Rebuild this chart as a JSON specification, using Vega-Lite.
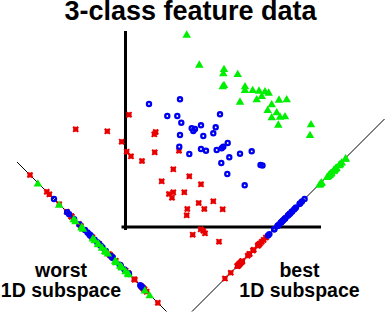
{
  "$schema": "https://vega.github.io/schema/vega-lite/v6.json",
  "autosize": {"type": "none"},
  "padding": {"top": 31, "left": 0, "right": 0, "bottom": 0},
  "width": 389,
  "height": 282,
  "background": "white",
  "config": {"view": {"stroke": null}},
  "title": {"text": "3-class feature data", "font": "Liberation Sans", "fontSize": 27, "fontWeight": "bold", "color": "black", "anchor": "middle", "dx": -4, "offset": 4},
  "datasets": {
    "segs": [
      {"kind": "axis", "X1": 0.5, "Y1": -2, "X2": 0.5, "Y2": 197},
      {"kind": "axis", "X1": -3.5, "Y1": 1, "X2": 196, "Y2": 1},
      {"kind": "subspace", "X1": -108, "Y1": 66, "X2": 41.5, "Y2": -83.5},
      {"kind": "subspace", "X1": 67, "Y1": -83.5, "X2": 259.5, "Y2": 109}
    ],
    "labels": [
      {"txt": "worst\n1D subspace", "X": -64, "Y": -48.7},
      {"txt": "best\n1D subspace", "X": 174.5, "Y": -48.7}
    ],
    "pts": [
      {"c": "red", "s": "data", "X": -49.3, "Y": 98.7}, {"c": "red", "s": "worst", "X": -95, "Y": 53}, {"c": "red", "s": "best", "X": 99.95, "Y": -50.55},
      {"c": "red", "s": "data", "X": -17.7, "Y": 96.7}, {"c": "red", "s": "worst", "X": -78.2, "Y": 36.2}, {"c": "red", "s": "best", "X": 114.75, "Y": -35.75},
      {"c": "red", "s": "data", "X": 4, "Y": 113.3}, {"c": "red", "s": "worst", "X": -75.65, "Y": 33.65}, {"c": "red", "s": "best", "X": 133.9, "Y": -16.6},
      {"c": "red", "s": "data", "X": -3.3, "Y": 86.3}, {"c": "red", "s": "worst", "X": -65.8, "Y": 23.8}, {"c": "red", "s": "best", "X": 116.75, "Y": -33.75},
      {"c": "red", "s": "data", "X": 1.7, "Y": 76.3}, {"c": "red", "s": "worst", "X": -58.3, "Y": 16.3}, {"c": "red", "s": "best", "X": 114.25, "Y": -36.25},
      {"c": "red", "s": "data", "X": 6, "Y": 71.7}, {"c": "red", "s": "worst", "X": -53.85, "Y": 11.85}, {"c": "red", "s": "best", "X": 114.1, "Y": -36.4},
      {"c": "red", "s": "data", "X": 17, "Y": 67}, {"c": "red", "s": "worst", "X": -46, "Y": 4}, {"c": "red", "s": "best", "X": 117.25, "Y": -33.25},
      {"c": "red", "s": "data", "X": 30.7, "Y": 96}, {"c": "red", "s": "worst", "X": -53.65, "Y": 11.65}, {"c": "red", "s": "best", "X": 138.6, "Y": -11.9},
      {"c": "red", "s": "data", "X": 29.3, "Y": 93.7}, {"c": "red", "s": "worst", "X": -53.2, "Y": 11.2}, {"c": "red", "s": "best", "X": 136.75, "Y": -13.75},
      {"c": "red", "s": "data", "X": 29.7, "Y": 75.7}, {"c": "red", "s": "worst", "X": -44, "Y": 2}, {"c": "red", "s": "best", "X": 127.95, "Y": -22.55},
      {"c": "red", "s": "data", "X": 54, "Y": 77.3}, {"c": "red", "s": "worst", "X": -32.65, "Y": -9.35}, {"c": "red", "s": "best", "X": 140.9, "Y": -9.6},
      {"c": "red", "s": "data", "X": 48.3, "Y": 58.7}, {"c": "red", "s": "worst", "X": -26.2, "Y": -15.8}, {"c": "red", "s": "best", "X": 128.75, "Y": -21.75},
      {"c": "red", "s": "data", "X": 36.7, "Y": 46.7}, {"c": "red", "s": "worst", "X": -26, "Y": -16}, {"c": "red", "s": "best", "X": 116.95, "Y": -33.55},
      {"c": "red", "s": "data", "X": 64.3, "Y": 51.7}, {"c": "red", "s": "worst", "X": -14.7, "Y": -27.3}, {"c": "red", "s": "best", "X": 133.25, "Y": -17.25},
      {"c": "red", "s": "data", "X": 76, "Y": 43.7}, {"c": "red", "s": "worst", "X": -4.85, "Y": -37.15}, {"c": "red", "s": "best", "X": 135.1, "Y": -15.4},
      {"c": "red", "s": "data", "X": 44, "Y": 34}, {"c": "red", "s": "worst", "X": -16, "Y": -26}, {"c": "red", "s": "best", "X": 114.25, "Y": -36.25},
      {"c": "red", "s": "data", "X": 48.3, "Y": 35.7}, {"c": "red", "s": "worst", "X": -14.7, "Y": -27.3}, {"c": "red", "s": "best", "X": 117.25, "Y": -33.25},
      {"c": "red", "s": "data", "X": 47, "Y": 30.3}, {"c": "red", "s": "worst", "X": -12.65, "Y": -29.35}, {"c": "red", "s": "best", "X": 113.9, "Y": -36.6},
      {"c": "red", "s": "data", "X": 59.3, "Y": 35.7}, {"c": "red", "s": "worst", "X": -9.2, "Y": -32.8}, {"c": "red", "s": "best", "X": 122.75, "Y": -27.75},
      {"c": "red", "s": "data", "X": 73.7, "Y": 25}, {"c": "red", "s": "worst", "X": 3.35, "Y": -45.35}, {"c": "red", "s": "best", "X": 124.6, "Y": -25.9},
      {"c": "red", "s": "data", "X": 88.3, "Y": 26.7}, {"c": "red", "s": "worst", "X": 9.8, "Y": -51.8}, {"c": "red", "s": "best", "X": 132.75, "Y": -17.75},
      {"c": "red", "s": "data", "X": 62.3, "Y": 19}, {"c": "red", "s": "worst", "X": 0.65, "Y": -42.65}, {"c": "red", "s": "best", "X": 115.9, "Y": -34.6},
      {"c": "red", "s": "data", "X": 79.3, "Y": 19}, {"c": "red", "s": "worst", "X": 9.15, "Y": -51.15}, {"c": "red", "s": "best", "X": 124.4, "Y": -26.1},
      {"c": "red", "s": "data", "X": 97.7, "Y": 18.7}, {"c": "red", "s": "worst", "X": 18.5, "Y": -60.5}, {"c": "red", "s": "best", "X": 133.45, "Y": -17.05},
      {"c": "red", "s": "data", "X": 61.7, "Y": 12.7}, {"c": "red", "s": "worst", "X": 3.5, "Y": -45.5}, {"c": "red", "s": "best", "X": 112.45, "Y": -38.05},
      {"c": "red", "s": "data", "X": 75.7, "Y": -1.3}, {"c": "red", "s": "worst", "X": 17.5, "Y": -59.5}, {"c": "red", "s": "best", "X": 112.45, "Y": -38.05},
      {"c": "red", "s": "data", "X": 78.3, "Y": -2.7}, {"c": "red", "s": "worst", "X": 19.5, "Y": -61.5}, {"c": "red", "s": "best", "X": 113.05, "Y": -37.45},
      {"c": "red", "s": "data", "X": 80, "Y": -5.3}, {"c": "red", "s": "worst", "X": 21.65, "Y": -63.65}, {"c": "red", "s": "best", "X": 112.6, "Y": -37.9},
      {"c": "red", "s": "data", "X": 67.7, "Y": -6.7}, {"c": "red", "s": "worst", "X": 16.2, "Y": -58.2}, {"c": "red", "s": "best", "X": 105.75, "Y": -44.75},
      {"c": "red", "s": "data", "X": 94, "Y": -13.7}, {"c": "red", "s": "worst", "X": 32.85, "Y": -74.85}, {"c": "red", "s": "best", "X": 115.4, "Y": -35.1},

      {"c": "blue", "s": "data", "X": 24, "Y": 124}, {"c": "blue", "s": "worst", "X": -71, "Y": 29}, {"c": "blue", "s": "best", "X": 149.25, "Y": -1.25},
      {"c": "blue", "s": "data", "X": 55, "Y": 128.7}, {"c": "blue", "s": "worst", "X": -57.85, "Y": 15.85}, {"c": "blue", "s": "best", "X": 167.1, "Y": 16.6},
      {"c": "blue", "s": "data", "X": 42.3, "Y": 112}, {"c": "blue", "s": "worst", "X": -55.85, "Y": 13.85}, {"c": "blue", "s": "best", "X": 152.4, "Y": 1.9},
      {"c": "blue", "s": "data", "X": 52.3, "Y": 112}, {"c": "blue", "s": "worst", "X": -50.85, "Y": 8.85}, {"c": "blue", "s": "best", "X": 157.4, "Y": 6.9},
      {"c": "blue", "s": "data", "X": 56.3, "Y": 105.3}, {"c": "blue", "s": "worst", "X": -45.5, "Y": 3.5}, {"c": "blue", "s": "best", "X": 156.05, "Y": 5.55},
      {"c": "blue", "s": "data", "X": 95, "Y": 113.7}, {"c": "blue", "s": "worst", "X": -30.35, "Y": -11.65}, {"c": "blue", "s": "best", "X": 179.6, "Y": 29.1},
      {"c": "blue", "s": "data", "X": 66.7, "Y": 99.7}, {"c": "blue", "s": "worst", "X": -37.5, "Y": -4.5}, {"c": "blue", "s": "best", "X": 158.45, "Y": 7.95},
      {"c": "blue", "s": "data", "X": 68.3, "Y": 97}, {"c": "blue", "s": "worst", "X": -35.35, "Y": -6.65}, {"c": "blue", "s": "best", "X": 157.9, "Y": 7.4},
      {"c": "blue", "s": "data", "X": 70, "Y": 99}, {"c": "blue", "s": "worst", "X": -35.5, "Y": -6.5}, {"c": "blue", "s": "best", "X": 159.75, "Y": 9.25},
      {"c": "blue", "s": "data", "X": 76, "Y": 102.7}, {"c": "blue", "s": "worst", "X": -34.35, "Y": -7.65}, {"c": "blue", "s": "best", "X": 164.6, "Y": 14.1},
      {"c": "blue", "s": "data", "X": 90.7, "Y": 100.7}, {"c": "blue", "s": "worst", "X": -26, "Y": -16}, {"c": "blue", "s": "best", "X": 170.95, "Y": 20.45},
      {"c": "blue", "s": "data", "X": 88.3, "Y": 94.7}, {"c": "blue", "s": "worst", "X": -24.2, "Y": -17.8}, {"c": "blue", "s": "best", "X": 166.75, "Y": 16.25},
      {"c": "blue", "s": "data", "X": 55, "Y": 93}, {"c": "blue", "s": "worst", "X": -40, "Y": -2}, {"c": "blue", "s": "best", "X": 149.25, "Y": -1.25},
      {"c": "blue", "s": "data", "X": 78.3, "Y": 92}, {"c": "blue", "s": "worst", "X": -27.85, "Y": -14.15}, {"c": "blue", "s": "best", "X": 160.4, "Y": 9.9},
      {"c": "blue", "s": "data", "X": 102.7, "Y": 85}, {"c": "blue", "s": "worst", "X": -12.15, "Y": -29.85}, {"c": "blue", "s": "best", "X": 169.1, "Y": 18.6},
      {"c": "blue", "s": "data", "X": 98.3, "Y": 81.3}, {"c": "blue", "s": "worst", "X": -12.5, "Y": -29.5}, {"c": "blue", "s": "best", "X": 165.05, "Y": 14.55},
      {"c": "blue", "s": "data", "X": 54.3, "Y": 81.3}, {"c": "blue", "s": "worst", "X": -34.5, "Y": -7.5}, {"c": "blue", "s": "best", "X": 143.05, "Y": -7.45},
      {"c": "blue", "s": "data", "X": 76, "Y": 79}, {"c": "blue", "s": "worst", "X": -22.5, "Y": -19.5}, {"c": "blue", "s": "best", "X": 152.75, "Y": 2.25},
      {"c": "blue", "s": "data", "X": 81, "Y": 77.3}, {"c": "blue", "s": "worst", "X": -19.15, "Y": -22.85}, {"c": "blue", "s": "best", "X": 154.4, "Y": 3.9},
      {"c": "blue", "s": "data", "X": 91.7, "Y": 78}, {"c": "blue", "s": "worst", "X": -14.15, "Y": -27.85}, {"c": "blue", "s": "best", "X": 160.1, "Y": 9.6},
      {"c": "blue", "s": "data", "X": 96.7, "Y": 79.7}, {"c": "blue", "s": "worst", "X": -12.5, "Y": -29.5}, {"c": "blue", "s": "best", "X": 163.45, "Y": 12.95},
      {"c": "blue", "s": "data", "X": 64.3, "Y": 74}, {"c": "blue", "s": "worst", "X": -25.85, "Y": -16.15}, {"c": "blue", "s": "best", "X": 144.4, "Y": -6.1},
      {"c": "blue", "s": "data", "X": 115, "Y": 74.3}, {"c": "blue", "s": "worst", "X": -0.65, "Y": -41.35}, {"c": "blue", "s": "best", "X": 169.9, "Y": 19.4},
      {"c": "blue", "s": "data", "X": 126.7, "Y": 76.7}, {"c": "blue", "s": "worst", "X": 4, "Y": -46}, {"c": "blue", "s": "best", "X": 176.95, "Y": 26.45},
      {"c": "blue", "s": "data", "X": 104.3, "Y": 70.7}, {"c": "blue", "s": "worst", "X": -4.2, "Y": -37.8}, {"c": "blue", "s": "best", "X": 162.75, "Y": 12.25},
      {"c": "blue", "s": "data", "X": 96.3, "Y": 65}, {"c": "blue", "s": "worst", "X": -5.35, "Y": -36.65}, {"c": "blue", "s": "best", "X": 155.9, "Y": 5.4},
      {"c": "blue", "s": "data", "X": 135.5, "Y": 63}, {"c": "blue", "s": "worst", "X": 15.25, "Y": -57.25}, {"c": "blue", "s": "best", "X": 174.5, "Y": 24},
      {"c": "blue", "s": "data", "X": 137.5, "Y": 62.5}, {"c": "blue", "s": "worst", "X": 16.5, "Y": -58.5}, {"c": "blue", "s": "best", "X": 175.25, "Y": 24.75},
      {"c": "blue", "s": "data", "X": 102.3, "Y": 54}, {"c": "blue", "s": "worst", "X": 3.15, "Y": -45.15}, {"c": "blue", "s": "best", "X": 153.4, "Y": 2.9},
      {"c": "blue", "s": "data", "X": 119.7, "Y": 42.7}, {"c": "blue", "s": "worst", "X": 17.5, "Y": -59.5}, {"c": "blue", "s": "best", "X": 156.45, "Y": 5.95},

      {"c": "green", "s": "data", "X": 61.7, "Y": 194}, {"c": "green", "s": "worst", "X": -87.15, "Y": 45.15}, {"c": "green", "s": "best", "X": 203.1, "Y": 52.6},
      {"c": "green", "s": "data", "X": 74.3, "Y": 164}, {"c": "green", "s": "worst", "X": -65.85, "Y": 23.85}, {"c": "green", "s": "best", "X": 194.4, "Y": 43.9},
      {"c": "green", "s": "data", "X": 99, "Y": 159.7}, {"c": "green", "s": "worst", "X": -51.35, "Y": 9.35}, {"c": "green", "s": "best", "X": 204.6, "Y": 54.1},
      {"c": "green", "s": "data", "X": 98.3, "Y": 155.3}, {"c": "green", "s": "worst", "X": -49.5, "Y": 7.5}, {"c": "green", "s": "best", "X": 202.05, "Y": 51.55},
      {"c": "green", "s": "data", "X": 112.7, "Y": 154.7}, {"c": "green", "s": "worst", "X": -42, "Y": 0}, {"c": "green", "s": "best", "X": 208.95, "Y": 58.45},
      {"c": "green", "s": "data", "X": 99, "Y": 143.7}, {"c": "green", "s": "worst", "X": -43.35, "Y": 1.35}, {"c": "green", "s": "best", "X": 196.6, "Y": 46.1},
      {"c": "green", "s": "data", "X": 97.7, "Y": 142.3}, {"c": "green", "s": "worst", "X": -43.3, "Y": 1.3}, {"c": "green", "s": "best", "X": 195.25, "Y": 44.75},
      {"c": "green", "s": "data", "X": 120, "Y": 142.3}, {"c": "green", "s": "worst", "X": -32.15, "Y": -9.85}, {"c": "green", "s": "best", "X": 206.4, "Y": 55.9},
      {"c": "green", "s": "data", "X": 120, "Y": 138.7}, {"c": "green", "s": "worst", "X": -30.35, "Y": -11.65}, {"c": "green", "s": "best", "X": 204.6, "Y": 54.1},
      {"c": "green", "s": "data", "X": 127.7, "Y": 138.7}, {"c": "green", "s": "worst", "X": -26.5, "Y": -15.5}, {"c": "green", "s": "best", "X": 208.45, "Y": 57.95},
      {"c": "green", "s": "data", "X": 134, "Y": 138}, {"c": "green", "s": "worst", "X": -23, "Y": -19}, {"c": "green", "s": "best", "X": 211.25, "Y": 60.75},
      {"c": "green", "s": "data", "X": 140, "Y": 137.3}, {"c": "green", "s": "worst", "X": -19.65, "Y": -22.35}, {"c": "green", "s": "best", "X": 213.9, "Y": 63.4},
      {"c": "green", "s": "data", "X": 143.7, "Y": 136}, {"c": "green", "s": "worst", "X": -17.15, "Y": -24.85}, {"c": "green", "s": "best", "X": 215.1, "Y": 64.6},
      {"c": "green", "s": "data", "X": 131.7, "Y": 129.3}, {"c": "green", "s": "worst", "X": -19.8, "Y": -22.2}, {"c": "green", "s": "best", "X": 205.75, "Y": 55.25},
      {"c": "green", "s": "data", "X": 136.7, "Y": 132.7}, {"c": "green", "s": "worst", "X": -19, "Y": -23}, {"c": "green", "s": "best", "X": 209.95, "Y": 59.45},
      {"c": "green", "s": "data", "X": 115, "Y": 127}, {"c": "green", "s": "worst", "X": -27, "Y": -15}, {"c": "green", "s": "best", "X": 196.25, "Y": 45.75},
      {"c": "green", "s": "data", "X": 154, "Y": 129}, {"c": "green", "s": "worst", "X": -8.5, "Y": -33.5}, {"c": "green", "s": "best", "X": 216.75, "Y": 66.25},
      {"c": "green", "s": "data", "X": 161.7, "Y": 129.3}, {"c": "green", "s": "worst", "X": -4.8, "Y": -37.2}, {"c": "green", "s": "best", "X": 220.75, "Y": 70.25},
      {"c": "green", "s": "data", "X": 146.7, "Y": 124.3}, {"c": "green", "s": "worst", "X": -9.8, "Y": -32.2}, {"c": "green", "s": "best", "X": 210.75, "Y": 60.25},
      {"c": "green", "s": "data", "X": 142.7, "Y": 118.7}, {"c": "green", "s": "worst", "X": -9, "Y": -33}, {"c": "green", "s": "best", "X": 205.95, "Y": 55.45},
      {"c": "green", "s": "data", "X": 151.7, "Y": 116.3}, {"c": "green", "s": "worst", "X": -3.3, "Y": -38.7}, {"c": "green", "s": "best", "X": 209.25, "Y": 58.75},
      {"c": "green", "s": "data", "X": 146.7, "Y": 111.3}, {"c": "green", "s": "worst", "X": -3.3, "Y": -38.7}, {"c": "green", "s": "best", "X": 204.25, "Y": 53.75},
      {"c": "green", "s": "data", "X": 155, "Y": 112}, {"c": "green", "s": "worst", "X": 0.5, "Y": -42.5}, {"c": "green", "s": "best", "X": 208.75, "Y": 58.25},
      {"c": "green", "s": "data", "X": 160, "Y": 112.3}, {"c": "green", "s": "worst", "X": 2.85, "Y": -44.85}, {"c": "green", "s": "best", "X": 211.4, "Y": 60.9},
      {"c": "green", "s": "data", "X": 153.3, "Y": 104}, {"c": "green", "s": "worst", "X": 3.65, "Y": -45.65}, {"c": "green", "s": "best", "X": 203.9, "Y": 53.4},
      {"c": "green", "s": "data", "X": 186, "Y": 104.3}, {"c": "green", "s": "worst", "X": 19.85, "Y": -61.85}, {"c": "green", "s": "best", "X": 220.4, "Y": 69.9},
      {"c": "green", "s": "data", "X": 185, "Y": 93.7}, {"c": "green", "s": "worst", "X": 24.65, "Y": -66.65}, {"c": "green", "s": "best", "X": 214.6, "Y": 64.1}
    ]
  },
  "layer": [
    {
      "data": {"name": "segs"},
      "transform": [{"filter": "datum.kind === 'axis'"}],
      "mark": {"type": "rule", "color": "black", "strokeWidth": 3},
      "encoding": {
        "x": {"field": "X1", "type": "quantitative", "scale": {"domain": [-125, 264], "nice": false, "zero": false}, "axis": null},
        "y": {"field": "Y1", "type": "quantitative", "scale": {"domain": [-85, 197], "nice": false, "zero": false}, "axis": null},
        "x2": {"field": "X2"},
        "y2": {"field": "Y2"}
      }
    },
    {
      "data": {"name": "segs"},
      "transform": [{"filter": "datum.kind === 'subspace'"}],
      "mark": {"type": "rule", "color": "black", "strokeWidth": 1},
      "encoding": {
        "x": {"field": "X1", "type": "quantitative", "scale": {"domain": [-125, 264], "nice": false, "zero": false}, "axis": null},
        "y": {"field": "Y1", "type": "quantitative", "scale": {"domain": [-85, 197], "nice": false, "zero": false}, "axis": null},
        "x2": {"field": "X2"},
        "y2": {"field": "Y2"}
      }
    },
    {
      "data": {"name": "pts"},
      "transform": [{"filter": "datum.c === 'red'"}],
      "mark": {"type": "point", "shape": "M-1,-1L1,1M1,-1L-1,1M-1,0L1,0M0,-1L0,1", "size": 26, "filled": false, "stroke": "#e80000", "strokeWidth": 2, "opacity": 1},
      "encoding": {
        "x": {"field": "X", "type": "quantitative", "scale": {"domain": [-125, 264], "nice": false, "zero": false}, "axis": null},
        "y": {"field": "Y", "type": "quantitative", "scale": {"domain": [-85, 197], "nice": false, "zero": false}, "axis": null}
      }
    },
    {
      "data": {"name": "pts"},
      "transform": [{"filter": "datum.c === 'blue'"}],
      "mark": {"type": "point", "shape": "circle", "size": 17, "filled": false, "stroke": "#0000f0", "strokeWidth": 2.3, "opacity": 1},
      "encoding": {
        "x": {"field": "X", "type": "quantitative", "scale": {"domain": [-125, 264], "nice": false, "zero": false}, "axis": null},
        "y": {"field": "Y", "type": "quantitative", "scale": {"domain": [-85, 197], "nice": false, "zero": false}, "axis": null}
      }
    },
    {
      "data": {"name": "pts"},
      "transform": [{"filter": "datum.c === 'green'"}],
      "mark": {"type": "point", "shape": "triangle-up", "size": 72, "filled": true, "fill": "#00ee00", "stroke": null, "opacity": 1},
      "encoding": {
        "x": {"field": "X", "type": "quantitative", "scale": {"domain": [-125, 264], "nice": false, "zero": false}, "axis": null},
        "y": {"field": "Y", "type": "quantitative", "scale": {"domain": [-85, 197], "nice": false, "zero": false}, "axis": null}
      }
    },
    {
      "data": {"name": "labels"},
      "mark": {"type": "text", "font": "Liberation Sans", "fontSize": 19.5, "fontWeight": "bold", "color": "black", "align": "center", "baseline": "alphabetic", "lineBreak": "\n", "lineHeight": 20},
      "encoding": {
        "x": {"field": "X", "type": "quantitative", "scale": {"domain": [-125, 264], "nice": false, "zero": false}, "axis": null},
        "y": {"field": "Y", "type": "quantitative", "scale": {"domain": [-85, 197], "nice": false, "zero": false}, "axis": null},
        "text": {"field": "txt", "type": "nominal"}
      }
    }
  ]
}
